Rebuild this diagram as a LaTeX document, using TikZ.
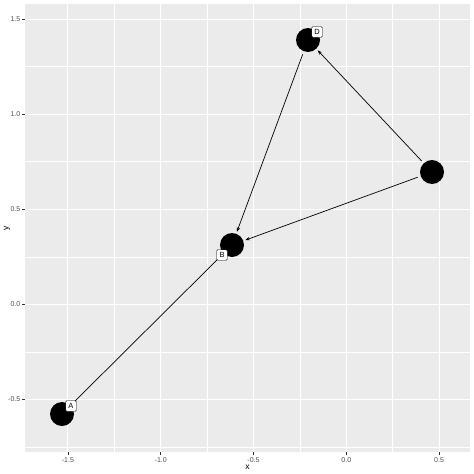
\documentclass[tikz,border=0pt]{standalone}
\usepackage{fontspec}
\setmainfont{Liberation Sans}
\usetikzlibrary{arrows.meta}
\definecolor{panelgrey}{HTML}{EBEBEB}
\definecolor{ticktext}{HTML}{4D4D4D}
\definecolor{tickline}{HTML}{333333}
\begin{document}
\begin{tikzpicture}[x=1pt,y=-1pt,
  vertex/.style={circle,fill=black,minimum size=24pt,inner sep=0pt},
  lbl/.style={draw=black,fill=white,rounded corners=1pt,line width=0.4pt,inner sep=1.5pt,font=\fontsize{7.5}{8}\selectfont,minimum width=10.5pt,minimum height=10.5pt},
  major/.style={white,line width=1pt},
  minor/.style={white,line width=0.5pt},
  edge/.style={black,line width=0.7pt,shorten >=2pt,shorten <=3pt},
  arr/.style={edge,-{Stealth[length=4.5pt,width=3.5pt]}},
  ticklab/.style={text=ticktext,font=\fontsize{7}{8}\selectfont,inner sep=0pt},
  axtitle/.style={text=black,font=\fontsize{8.5}{9}\selectfont,inner sep=0pt},
  tick/.style={tickline,line width=0.5pt}]
\useasboundingbox (0,0) rectangle (474,474);
\fill[white] (0,0) rectangle (474,474);
% panel
\fill[panelgrey] (25,4) rectangle (470,452);
% minor grid
\foreach \xx in {114.3,207.1,299.9,392.7} \draw[minor] (\xx,4) -- (\xx,452);
\foreach \yy in {66.55,161.65,256.75,351.85,446.95} \draw[minor] (25,\yy) -- (470,\yy);
% major grid
\foreach \xx in {67.9,160.7,253.5,346.3,439.1} \draw[major] (\xx,4) -- (\xx,452);
\foreach \yy in {19.0,114.1,209.2,304.3,399.4} \draw[major] (25,\yy) -- (470,\yy);
% ticks and tick labels
\foreach \xx/\t in {67.9/-1.5,160.7/-1.0,253.5/-0.5,346.3/0.0,439.1/0.5} {
  \draw[tick] (\xx,452) -- (\xx,455);
  \node[ticklab,anchor=north] at (\xx,457) {\t};
}
\foreach \yy/\t in {19.0/1.5,114.1/1.0,209.2/0.5,304.3/0.0,399.4/-0.5} {
  \draw[tick] (22,\yy) -- (25,\yy);
  \node[ticklab,anchor=east] at (20.5,\yy) {\t};
}
\node[axtitle] (xt) at (247.5,467.5) {x};
\node[axtitle,rotate=90] (yt) at (7,228) {y};
% vertices
\node[vertex] (A) at (62,414) {};
\node[vertex] (B) at (232,245) {};
\node[vertex] (C) at (432,172) {};
\node[vertex] (D) at (308,40) {};
% edges
\draw[edge] (A) -- (B);
\draw[arr] (D) -- (B);
\draw[arr] (C) -- (B);
\draw[arr] (C) -- (D);
% labels
\node[lbl] (lA) at (71,406) {A};
\node[lbl] (lB) at (222,255) {B};
\node[lbl] (lD) at (317,32) {D};
\end{tikzpicture}
\end{document}
